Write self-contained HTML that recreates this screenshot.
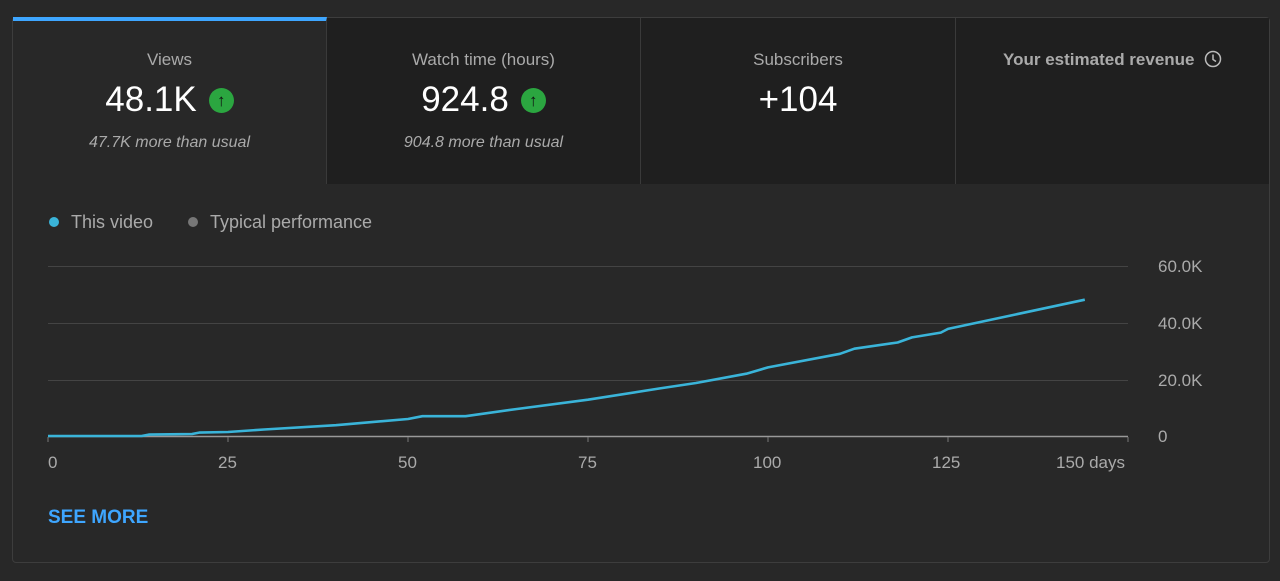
<!DOCTYPE html>
<html><head><meta charset="utf-8"><style>
body{margin:0;width:1280px;height:581px;background:#282828;font-family:"Liberation Sans",Roboto,sans-serif;overflow:hidden;position:relative}
.card{position:absolute;left:12px;top:17px;width:1256px;height:544px;border:1px solid #3d3d3d;border-radius:4px;background:#282828}
.tab{position:absolute;top:0;height:166px;background:#1f1f1f;border-right:1px solid #3a3a3a;text-align:center;color:#aaa}
.tab .t{margin-top:32px;font-size:17px}
.tab .v{color:#fff;font-size:35px;margin-top:10px;display:flex;justify-content:center;align-items:center;gap:12px}
.up{width:25px;height:25px;border-radius:50%;background:#2ba640;color:#111;font-size:17px;line-height:25px;font-weight:bold}
.tab .s{font-style:italic;font-size:16px;margin-top:14px;color:#aaa}
svg{position:absolute;left:0;top:0}
</style></head><body>
<div class="card">
<div class="tab" style="left:0;width:313px;background:#282828;border-top:4px solid #3ea6ff;top:-1px;height:163px"><div class="t" style="margin-top:29px">Views</div><div class="v">48.1K <span class="up">↑</span></div><div class="s">47.7K more than usual</div></div>
<div class="tab" style="left:314px;width:313px"><div class="t">Watch time (hours)</div><div class="v">924.8 <span class="up">↑</span></div><div class="s">904.8 more than usual</div></div>
<div class="tab" style="left:628px;width:314px"><div class="t">Subscribers</div><div class="v">+104</div></div>
<div class="tab" style="left:943px;width:313px;border-right:none"><div class="t" style="font-weight:bold">Your estimated revenue &nbsp;<svg style="position:static;vertical-align:-3px" width="18" height="18" viewBox="0 0 18 18"><circle cx="9" cy="9" r="7.5" fill="none" stroke="#bbb" stroke-width="1.5"/><path d="M9 4.5V9.5L12 11.5" fill="none" stroke="#bbb" stroke-width="1.5"/></svg></div></div>
</div>
<svg width="1280" height="581">
<circle cx="54" cy="222" r="5" fill="#3ab4d9"/><text x="71" y="228" fill="#aaa" font-size="18" font-family="Liberation Sans">This video</text>
<circle cx="193" cy="222" r="5" fill="#777"/><text x="210" y="228" fill="#aaa" font-size="18" font-family="Liberation Sans">Typical performance</text>
<g stroke="#444" stroke-width="1"><line x1="48" x2="1128" y1="266.5" y2="266.5"/><line x1="48" x2="1128" y1="323.5" y2="323.5"/><line x1="48" x2="1128" y1="380.5" y2="380.5"/></g>
<line x1="48" x2="1128" y1="436.5" y2="436.5" stroke="#999" stroke-width="1.5"/>
<g stroke="#777"><line x1="48" x2="48" y1="437" y2="442"/><line x1="228" x2="228" y1="437" y2="442"/><line x1="408" x2="408" y1="437" y2="442"/><line x1="588" x2="588" y1="437" y2="442"/><line x1="768" x2="768" y1="437" y2="442"/><line x1="948" x2="948" y1="437" y2="442"/><line x1="1128" x2="1128" y1="437" y2="442"/></g>
<g fill="#aaa" font-size="17" font-family="Liberation Sans"><text x="48" y="468">0</text><text x="218" y="468">25</text><text x="398" y="468">50</text><text x="578" y="468">75</text><text x="753" y="468">100</text><text x="932" y="468">125</text><text x="1056" y="468">150 days</text>
<text x="1158" y="272">60.0K</text><text x="1158" y="329">40.0K</text><text x="1158" y="386">20.0K</text><text x="1158" y="442">0</text></g>
<polyline fill="none" stroke="#3ab4d9" stroke-width="2.6" stroke-linejoin="round" points="48,436 141.6,436 148.8,434.6 192,434 199.2,432.6 228,432 264,429.5 336,425.2 408,419 422.4,416.2 465.6,416.2 516,409.1 588,399.7 660,388.4 696,383 746.4,373.7 768,367.4 840,353.8 854.4,348.7 897.6,342.5 912,337.4 940.8,332.6 948,328.9 1084.8,299.7"/>
<text x="48" y="523" fill="#3ea6ff" font-size="19" font-weight="bold" font-family="Liberation Sans">SEE MORE</text>
</svg>
</body></html>
